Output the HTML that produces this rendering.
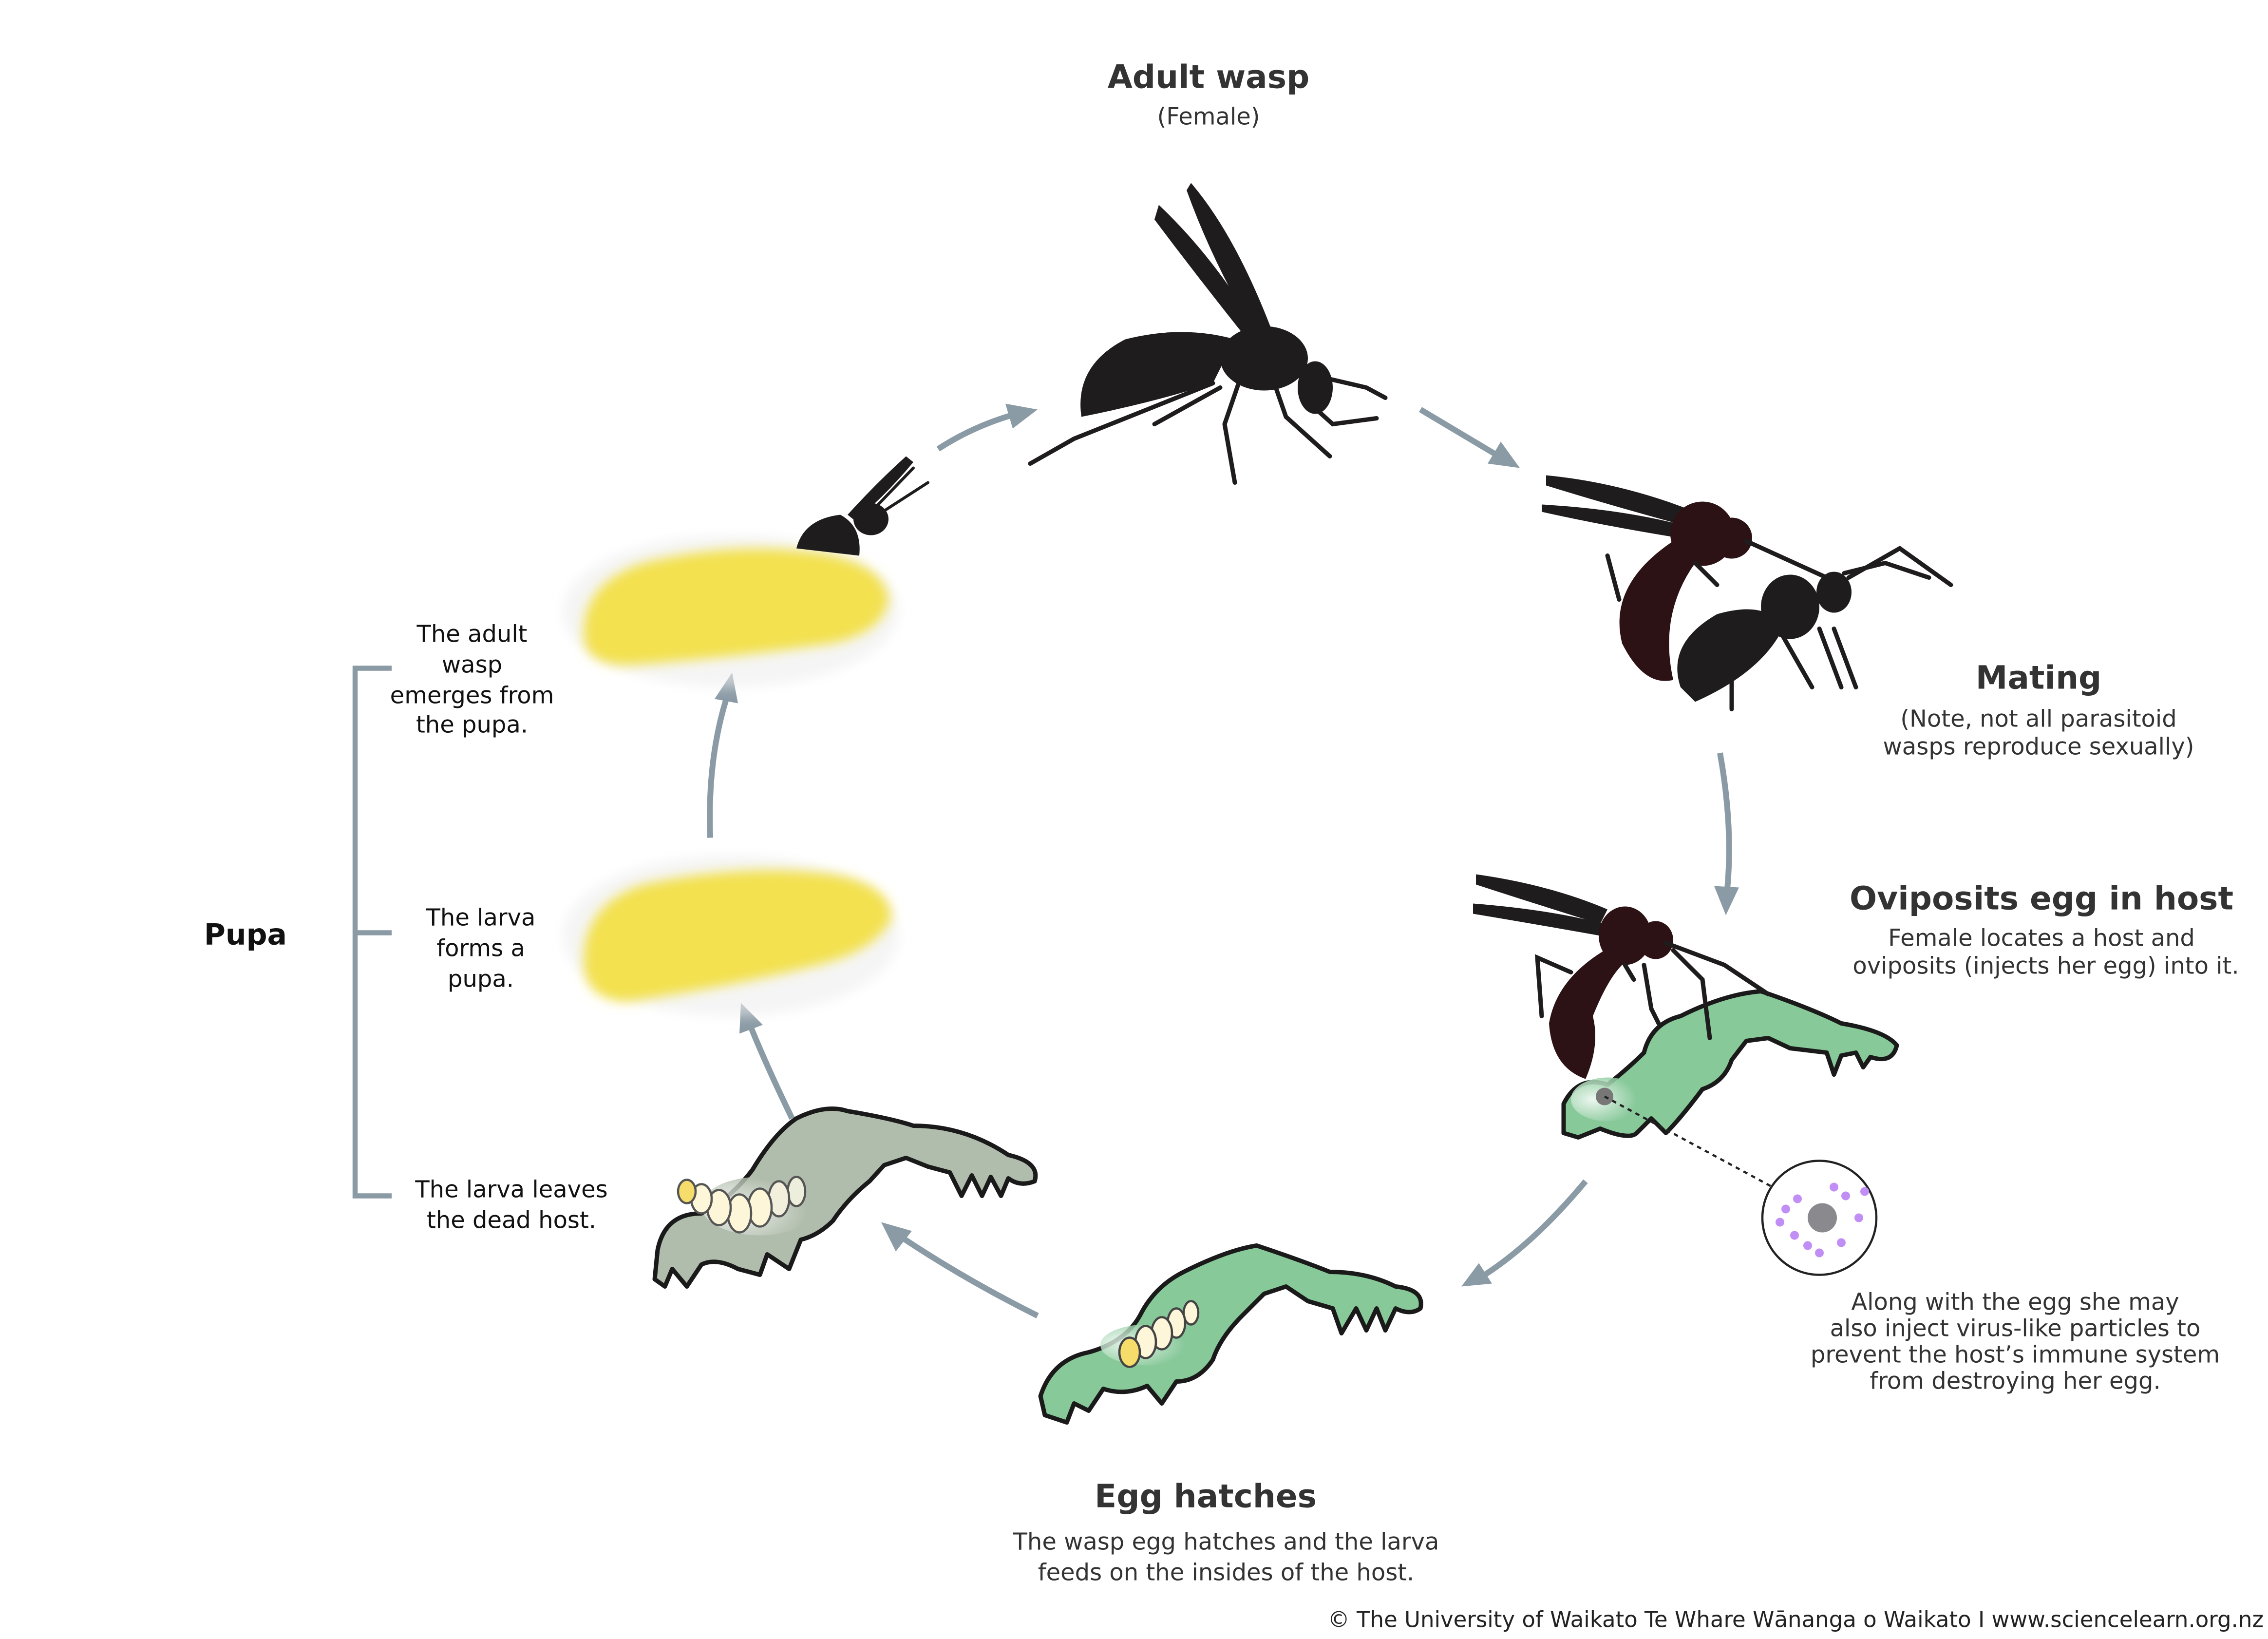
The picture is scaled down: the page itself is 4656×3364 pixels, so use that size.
<!DOCTYPE html>
<html><head><meta charset="utf-8"><style>
html,body{margin:0;padding:0;background:#fff;}
svg{display:block;}
text{font-family:"DejaVu Sans","Liberation Sans",sans-serif;fill:#333;}
.h{font-weight:bold;font-size:22px;}
.s{font-size:16px;}
.p{font-size:16px;fill:#111;}
.arr{fill:none;stroke:#8b9ba6;stroke-width:4;}
.ah{fill:#8b9ba6;}
.cat{fill:#88c99a;stroke:#1a1a1a;stroke-width:3;stroke-linejoin:round;}
.w{fill:#1e1c1c;}
.leg{fill:none;stroke:#1e1c1c;stroke-width:3;stroke-linecap:round;}
.m{fill:#2c1214;}
</style></head><body>
<svg width="4656" height="3364" viewBox="0 0 1552 1121" xmlns="http://www.w3.org/2000/svg">
<defs>
<radialGradient id="py" cx="0.5" cy="0.5" r="0.5"><stop offset="0" stop-color="#f3e04a"/><stop offset="0.8" stop-color="#f6e87a"/><stop offset="1" stop-color="#f6ee9a" stop-opacity="0"/></radialGradient>
<radialGradient id="gl" cx="0.3" cy="0.5" r="0.6"><stop offset="0" stop-color="#ffffff"/><stop offset="1" stop-color="#88c99a"/></radialGradient>
<radialGradient id="gg" cx="0.3" cy="0.6" r="0.6"><stop offset="0" stop-color="#ffffff"/><stop offset="1" stop-color="#b1bdac"/></radialGradient>
<filter id="bl"><feGaussianBlur stdDeviation="4"/></filter>
</defs>

<!-- titles -->
<text class="h" x="827" y="60" text-anchor="middle">Adult wasp</text>
<text class="s" x="827" y="85" text-anchor="middle">(Female)</text>
<text class="h" x="1395" y="471" text-anchor="middle">Mating</text>
<text class="s" x="1395" y="497" text-anchor="middle">(Note, not all parasitoid</text>
<text class="s" x="1395" y="516" text-anchor="middle">wasps reproduce sexually)</text>
<text class="h" x="1397" y="622" text-anchor="middle">Oviposits egg in host</text>
<text class="s" x="1397" y="647" text-anchor="middle">Female locates a host and</text>
<text class="s" x="1400" y="666" text-anchor="middle">oviposits (injects her egg) into it.</text>
<text class="s" x="1379" y="896" text-anchor="middle">Along with the egg she may</text>
<text class="s" x="1379" y="914" text-anchor="middle">also inject virus-like particles to</text>
<text class="s" x="1379" y="932" text-anchor="middle">prevent the host’s immune system</text>
<text class="s" x="1379" y="950" text-anchor="middle">from destroying her egg.</text>
<text class="h" x="825" y="1031" text-anchor="middle">Egg hatches</text>
<text class="s" x="839" y="1060" text-anchor="middle">The wasp egg hatches and the larva</text>
<text class="s" x="839" y="1081" text-anchor="middle">feeds on the insides of the host.</text>
<text x="1549" y="1113" text-anchor="end" style="font-size:15px;fill:#222">© The University of Waikato Te Whare Wānanga o Waikato I www.sciencelearn.org.nz</text>
<text x="168" y="646" text-anchor="middle" style="font-weight:bold;font-size:20px;fill:#111">Pupa</text>
<text class="p" x="323" y="439" text-anchor="middle">The adult</text>
<text class="p" x="323" y="460" text-anchor="middle">wasp</text>
<text class="p" x="323" y="481" text-anchor="middle">emerges from</text>
<text class="p" x="323" y="501" text-anchor="middle">the pupa.</text>
<text class="p" x="329" y="633" text-anchor="middle">The larva</text>
<text class="p" x="329" y="654" text-anchor="middle">forms a</text>
<text class="p" x="329" y="675" text-anchor="middle">pupa.</text>
<text class="p" x="350" y="819" text-anchor="middle">The larva leaves</text>
<text class="p" x="350" y="840" text-anchor="middle">the dead host.</text>

<!-- bracket -->
<path d="M268,457 H243 V818 H268 M243,638 H268" fill="none" stroke="#8b9ba6" stroke-width="3.5"/>

<!-- arrows -->
<path class="arr" d="M642,307 Q665,292 692,284"/><polygon class="ah" points="710,280 688,276 693,293"/>
<path class="arr" d="M972,280 Q997,295 1024,311"/><polygon class="ah" points="1040,320 1027,302 1018,317"/>
<path class="arr" d="M1177,515 Q1186,565 1182,608"/><polygon class="ah" points="1181,626 1173,606 1190,607"/>
<path class="arr" d="M1085,808 Q1050,850 1016,872"/><polygon class="ah" points="1000,880 1012,864 1021,878"/>
<path class="arr" d="M710,900 Q660,875 618,847"/><polygon class="ah" points="603,836 613,856 624,842"/>
<path class="arr" d="M542,765 Q525,730 514,703"/><polygon class="ah" points="507,686 506,707 522,701"/>
<path class="arr" d="M486,573 Q484,520 497,478"/><polygon class="ah" points="501,460 489,478 505,481"/>

<!-- adult wasp -->
<g>
<path class="w" d="M793,140 Q830,175 860,225 L852,230 Q820,190 790,150 Z"/>
<path class="w" d="M815,125 Q845,160 870,225 L860,230 Q830,180 812,130 Z"/>
<path class="w" d="M740,285 Q735,250 770,232 Q810,222 845,232 L830,262 Q790,275 740,285 Z"/>
<ellipse class="w" cx="865" cy="245" rx="30" ry="22"/>
<ellipse class="w" cx="900" cy="265" rx="12" ry="18"/>
<path class="leg" d="M850,255 L838,290 L845,330 M872,262 L880,285 L910,312 M892,272 L912,290 L942,286 M905,258 L935,265 L948,272 M830,262 L785,280 L735,300 L705,317 M835,265 L790,290"/>
</g>

<!-- mating wasps -->
<g>
<path class="w" d="M1058,325 Q1110,330 1160,350 L1155,360 Q1100,345 1058,332 Z" fill="#1e1c1c"/>
<path class="w" d="M1055,345 Q1110,348 1155,360 L1150,368 Q1100,360 1055,350 Z"/>
<ellipse class="m" cx="1165" cy="365" rx="22" ry="22"/>
<path class="m" d="M1145,370 Q1100,400 1110,440 Q1125,470 1145,465 Q1135,420 1160,385 Z"/>
<ellipse class="m" cx="1185" cy="368" rx="14" ry="14"/>
<path class="w" d="M1150,470 Q1140,440 1175,420 Q1210,410 1220,430 Q1205,460 1160,480 Z"/>
<ellipse class="w" cx="1225" cy="415" rx="20" ry="22"/>
<ellipse class="w" cx="1255" cy="405" rx="12" ry="14"/>
<path class="leg" d="M1100,380 L1108,410 M1160,385 L1175,400 M1195,370 L1250,395 M1265,395 L1300,375 L1335,400 M1262,392 L1290,385 L1320,395 M1220,435 L1240,470 M1245,430 L1260,470 M1255,430 L1270,470 M1185,440 L1185,485"/>
</g>

<!-- ovipositing wasp + caterpillar -->
<path class="cat" d="M1070,755 Q1080,735 1100,742 Q1115,730 1125,720 Q1130,700 1150,695 Q1180,680 1205,678 Q1240,690 1260,700 Q1290,705 1298,715 Q1295,728 1280,723 L1275,730 L1270,720 L1260,722 L1255,735 L1250,720 L1225,717 L1210,710 L1195,712 L1185,725 Q1180,740 1165,745 Q1150,765 1140,775 L1130,765 L1120,775 Q1115,780 1095,772 L1080,778 L1070,775 Z"/>
<ellipse cx="1100" cy="752" rx="25" ry="15" fill="url(#gl)" opacity="0.85"/>
<circle cx="1098" cy="750" r="6" fill="#777"/>
<path d="M1098,750 L1213,812" stroke="#222" stroke-width="1.5" stroke-dasharray="3,3"/>
<circle cx="1245" cy="833" r="39" fill="#fff" stroke="#222" stroke-width="1.5"/>
<g fill="#c08ef5">
<circle cx="1230" cy="820" r="3"/><circle cx="1255" cy="812" r="3"/><circle cx="1263" cy="818" r="3"/><circle cx="1228" cy="845" r="3"/><circle cx="1260" cy="850" r="3"/><circle cx="1272" cy="833" r="3"/><circle cx="1218" cy="836" r="3"/><circle cx="1245" cy="857" r="3"/><circle cx="1237" cy="852" r="3"/><circle cx="1222" cy="827" r="3"/><circle cx="1276" cy="815" r="3"/>
</g>
<circle cx="1247" cy="833" r="10" fill="#8a8a8e"/>
<path class="w" d="M1010,598 Q1060,605 1100,622 L1095,632 Q1050,618 1010,605 Z"/>
<path class="w" d="M1008,618 Q1060,622 1098,632 L1095,640 Q1050,632 1008,625 Z"/>
<ellipse class="m" cx="1112" cy="640" rx="18" ry="20"/>
<ellipse class="m" cx="1133" cy="643" rx="12" ry="13"/>
<path class="m" d="M1098,650 Q1065,670 1060,700 Q1062,730 1085,738 Q1095,715 1090,695 Q1100,670 1110,660 Z"/>
<path class="leg" d="M1075,665 L1052,655 L1055,695 M1112,660 L1118,670 M1125,660 L1130,690 L1135,700 M1145,650 L1165,670 L1170,710 M1140,645 L1180,660 L1210,680"/>

<!-- egg hatches caterpillar -->
<path class="cat" d="M712,955 Q720,930 745,925 Q770,918 780,900 Q790,880 810,870 Q840,855 860,852 Q890,862 910,870 Q935,870 955,880 Q975,882 972,895 Q965,900 955,895 L948,910 L942,895 L935,910 L928,895 L918,912 L912,895 L895,890 L880,880 L865,885 L850,900 Q835,915 830,930 Q820,945 805,945 L795,960 L785,948 Q770,955 755,950 L745,965 L735,960 L730,973 L715,968 Z"/>
<ellipse cx="785" cy="920" rx="32" ry="14" fill="url(#gl)" opacity="0.8"/>
<g fill="#fdf6d8" stroke="#444" stroke-width="1.5">
<ellipse cx="815" cy="898" rx="5" ry="8"/><ellipse cx="805" cy="905" rx="6" ry="10"/><ellipse cx="795" cy="912" rx="7" ry="11"/><ellipse cx="784" cy="918" rx="7" ry="11"/><ellipse cx="773" cy="925" rx="7" ry="10" fill="#f6dc6a"/>
</g>

<!-- dead host -->
<path d="M450,855 Q455,830 480,830 Q500,820 515,800 Q530,775 545,765 Q565,755 580,760 Q610,765 625,770 Q660,770 690,790 Q712,795 708,808 Q698,812 690,806 L685,818 L678,805 L672,818 L665,804 L658,818 L650,802 L635,798 L620,792 L605,797 L595,808 Q580,820 570,835 Q560,845 548,848 L540,868 L525,858 L520,872 L505,868 Q490,860 480,865 L470,880 L460,868 L455,880 L448,875 Z" fill="#b1bdac" stroke="#1a1a1a" stroke-width="3" stroke-linejoin="round"/>
<ellipse cx="520" cy="825" rx="40" ry="20" fill="url(#gg)" opacity="0.8"/>
<g fill="#fdf6d8" stroke="#555" stroke-width="1.5">
<ellipse cx="545" cy="815" rx="6" ry="10" fill="#eeeedd"/><ellipse cx="533" cy="820" rx="7" ry="12" fill="#f2f0dd"/><ellipse cx="520" cy="826" rx="8" ry="13"/><ellipse cx="506" cy="830" rx="8" ry="13"/><ellipse cx="492" cy="826" rx="8" ry="12"/><ellipse cx="480" cy="820" rx="7" ry="10"/><ellipse cx="470" cy="815" rx="6" ry="8" fill="#f6dc6a"/>
</g>

<!-- pupae -->
<g filter="url(#bl)">
<ellipse cx="500" cy="418" rx="115" ry="52" fill="#eee" opacity="0.6"/>
<ellipse cx="500" cy="640" rx="115" ry="55" fill="#eee" opacity="0.6"/>
</g>
<path d="M400,440 Q395,400 440,385 Q500,370 560,378 Q605,385 608,410 Q605,432 570,440 Q500,450 430,455 Q405,455 400,440 Z" fill="#f3e150" filter="url(#bl)"/>
<path d="M400,665 Q395,620 440,605 Q510,590 570,598 Q610,605 610,628 Q600,650 560,660 Q500,675 430,685 Q405,685 400,665 Z" fill="#f3e150" filter="url(#bl)"/>
<g>
<path class="w" d="M545,375 Q550,355 575,352 Q590,360 588,380 Z"/>
<ellipse class="w" cx="596" cy="355" rx="12" ry="11"/>
<path class="leg" d="M600,346 L625,320 M604,350 L635,330" style="stroke-width:2"/>
<path d="M580,352 Q600,330 620,312 L625,316 Q605,340 585,356 Z" fill="#1e1c1c"/>
</g>
</svg>
</body></html>
